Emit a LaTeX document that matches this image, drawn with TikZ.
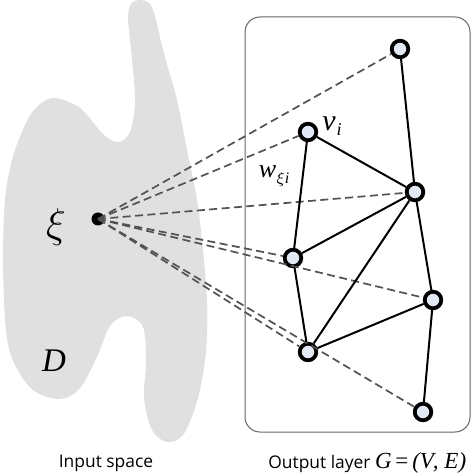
\documentclass[tikz,border=0pt]{standalone}
\usepackage{fontspec}
\setmainfont{Liberation Serif}
\newfontfamily\lblsans{Open Sans}
\newfontfamily\tms{Liberation Serif}
\definecolor{nodefill}{RGB}{226,233,244}
\definecolor{blobgray}{RGB}{224,224,224}
\begin{document}
\begin{tikzpicture}[x=0.5pt,y=-0.5pt,
  unit/.style={circle,draw=black,line width=1.9pt,fill=nodefill,minimum size=8.3pt,inner sep=0pt},
  src/.style={circle,fill=black,minimum size=6.5pt,inner sep=0pt},
  wline/.style={draw=black!68,line width=0.85pt,dash pattern=on 4pt off 2.2pt},
  edge/.style={draw=black,line width=1pt},
  frame/.style={draw=black!60,line width=0.5pt,rounded corners=7.5pt},
  caption/.style={font=\lblsans\fontsize{8.7}{10}\selectfont,inner sep=0pt},
  mathlbl/.style={inner sep=0pt}]
\useasboundingbox (0,0) rectangle (474,474);
% input space blob
\fill[blobgray] plot[smooth cycle, tension=0.55] coordinates {
 (140,0) (150,4) (156,20) (163,50) (177,100) (187,150) (197,200) (203,250) (207,300)
 (207,335) (204,368) (196,405) (183,435) (167,442) (152,430) (144,398)
 (146,363) (143,327) (127,316) (110,326) (97,357) (80,388) (60,399)
 (33,390) (14,363) (6,330) (3,263) (5,200) (12,160) (22,132) (34,110)
 (53,98) (80,108) (103,134) (118,142) (130,132) (135,100) (131,50) (128,18) (131,4)};
% output frame
\draw[frame] (245,17) rectangle (470,432);
% nodes
\node[src] (xi) at (98,219) {};
\node[unit] (n1) at (400,49) {};
\node[unit] (vi) at (308,132) {};
\node[unit] (n3) at (415,192) {};
\node[unit] (n4) at (293,258) {};
\node[unit] (n5) at (433,300) {};
\node[unit] (n6) at (308,352) {};
\node[unit] (n7) at (423,412) {};
% weight connections
\foreach \t in {n1,vi,n3,n4,n5,n6,n7} \draw[wline] (xi.center) -- (\t);
% graph edges
\draw[edge] (n1) -- (n3);
\draw[edge] (vi) -- (n3);
\draw[edge] (vi) -- (n4);
\draw[edge] (n4) -- (n3);
\draw[edge] (n4) -- (n6);
\draw[edge] (n6) -- (n3);
\draw[edge] (n3) -- (n5);
\draw[edge] (n6) -- (n5);
\draw[edge] (n5) -- (n7);
% labels
\node[mathlbl] (lxi) at (56,227) {\fontsize{20}{20}\selectfont $\xi$};
\node[mathlbl] (lD) at (54,361) {\fontsize{16.5}{16}\selectfont\itshape D};
\node[mathlbl] (lvi) at (332,126) {\fontsize{15}{14}\selectfont\itshape v\kern0.5pt\raisebox{-0.35ex}{\fontsize{9}{9}\selectfont i}};
\node[mathlbl] (lw) at (274,176) {\fontsize{13}{12}\selectfont\itshape w\kern0.3pt\raisebox{-0.55ex}{\fontsize{8}{8}\selectfont$\xi$\itshape i}};
\node[caption] (cin) at (106,463) {Input space};
\node[caption,anchor=west] (cout) at (268,463) {Output layer \tms\itshape\fontsize{11.5}{12}\selectfont G\,{\upshape=}\,({\itshape V}\kern-0.5pt, E)};
\end{tikzpicture}
\end{document}
